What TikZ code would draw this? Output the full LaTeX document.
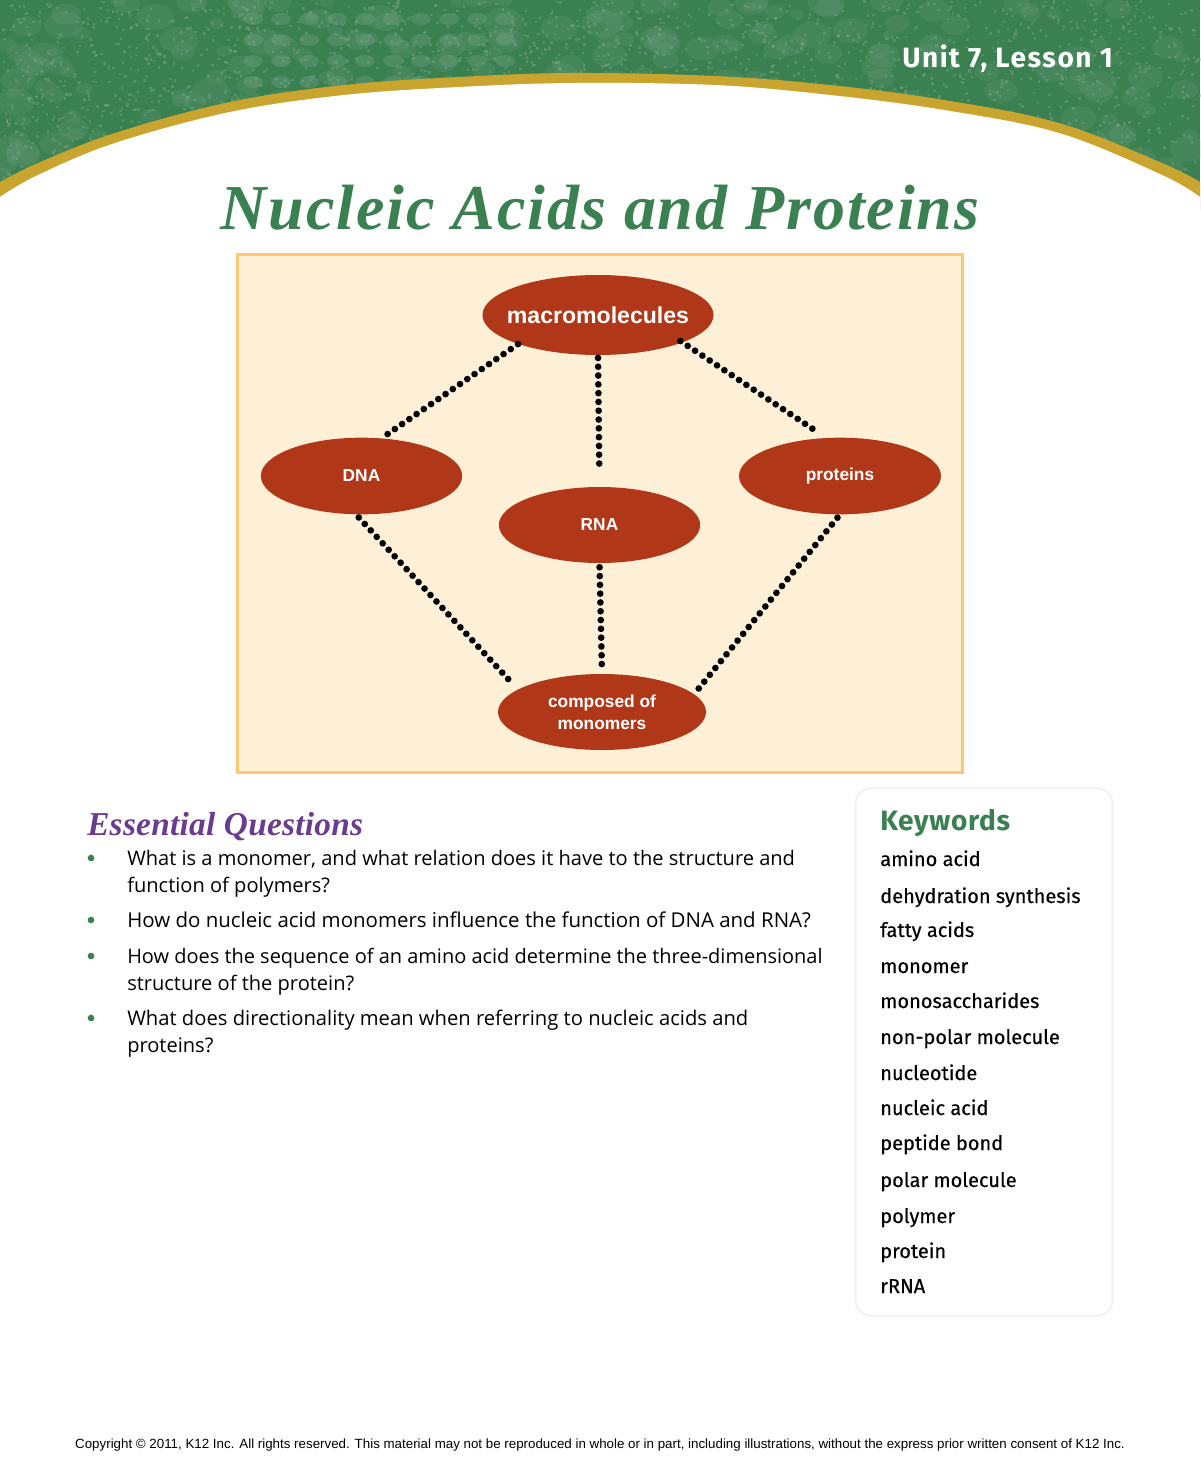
\documentclass[tikz,border=0pt]{standalone}
\usepackage{fontspec}
\usetikzlibrary{positioning,shapes.geometric}
\setmainfont{Liberation Serif}
\setsansfont{Liberation Sans}
\newfontfamily\bodyfont{Open Sans}
\newfontfamily\kwfont[RawFeature={embolden=0.35}]{Fira Sans}
\newfontfamily\headfont{Fira Sans}

\definecolor{bandgreen}{HTML}{3A8051}
\definecolor{bandlight}{HTML}{7FAA8E}
\definecolor{bandgold}{HTML}{C9A52F}
\definecolor{framefill}{HTML}{FEEFD7}
\definecolor{frameline}{HTML}{FCC873}
\definecolor{ovalred}{HTML}{B03819}
\definecolor{eqpurple}{HTML}{6A3B8F}

\tikzset{
    oval/.style={ellipse, fill=ovalred, inner sep=0pt, text=white, align=center, font=\sffamily\bfseries},
    dotline/.style={line width=5pt, line cap=round, dash pattern=on 0pt off 6.6pt},
    qline/.style={anchor=base west, inner sep=0pt, font=\bodyfont\fontsize{15.05}{18}\selectfont},
    kwline/.style={anchor=base west, inner sep=0pt, font=\kwfont\fontsize{15}{18}\selectfont},
    qdot/.style={circle, fill=bandgreen, minimum size=5pt, inner sep=0pt}
}

\begin{document}
\begin{tikzpicture}[x=0.75pt, y=-0.75pt]
    \useasboundingbox (0,0) rectangle (1200,1480);

    % green band with the gold arc
    \fill[bandgreen] (0,0) rectangle (1200,205);
    \pgfmathsetseed{11}
    \foreach \i in {1,...,300} {
        \pgfmathsetmacro{\bx}{rnd*1200}
        \pgfmathsetmacro{\by}{rnd*200}
        \pgfmathsetmacro{\br}{6+rnd*14}
        \fill[bandlight, opacity=0.16] (\bx,\by) ellipse ({\br} and {\br*0.7});
    }
    \foreach \i in {1,...,2600} {
        \pgfmathsetmacro{\bx}{rnd*1200}
        \pgfmathsetmacro{\by}{rnd*200}
        \fill[bandlight, opacity=0.4] (\bx,\by) rectangle ++(2.5,2.5);
    }
    \foreach \by in {19,40,61,82} {
        \foreach \bx in {253,281,...,510} {
            \fill[bandlight, opacity=0.3] (\bx,\by) ellipse (10 and 6);
        }
    }
    \fill[bandgold] plot[smooth, tension=0.6] coordinates {(0,182) (38,163) (115,133) (230,102) (344,85) (459,77) (574,73) (715,76) (830,85) (944,100) (1059,123) (1162,163) (1200,182)} -- (1200,210) -- (0,210) -- cycle;
    \fill[white] plot[smooth, tension=0.6] coordinates {(0,197) (38,175) (115,143) (230,112) (344,95) (459,87) (574,83) (715,85) (830,95) (944,110) (1059,133) (1162,175) (1200,197)} -- (1200,215) -- (0,215) -- cycle;

    \node (unit) [anchor=base east, inner sep=0pt, text=white] at (1113,68) {\headfont\bfseries\addfontfeature{LetterSpace=5.5}\fontsize{21}{24}\selectfont Unit 7, Lesson 1};
    \node (title) [anchor=base, inner sep=0pt, text=bandgreen] at (600,229) {\rmfamily\bfseries\itshape\addfontfeature{LetterSpace=3}\fontsize{48}{54}\selectfont Nucleic Acids and Proteins};

    % concept map
    \node (frame) [draw=frameline, fill=framefill, line width=2.2pt, minimum width=544pt, minimum height=388pt, inner sep=0pt] at (600,513.5) {};

    \node (macro) [oval, inner xsep=-7pt, minimum width=172.5pt, minimum height=60pt, font=\sffamily\bfseries\fontsize{17.3}{20}\selectfont] at (598,315) {macromolecules};
    \node (dna) [oval, minimum width=151pt, minimum height=57.5pt, font=\sffamily\bfseries\fontsize{13}{16}\selectfont] at (361.5,476) {DNA};
    \node (rna) [oval, minimum width=151pt, minimum height=57pt, font=\sffamily\bfseries\fontsize{13}{16}\selectfont] at (599.5,525) {RNA};
    \node (proteins) [oval, minimum width=151.5pt, minimum height=57.5pt, font=\sffamily\bfseries\fontsize{13}{16}\selectfont] at (840,476) {proteins};
    \node (composed) [oval, minimum width=156pt, minimum height=57pt, font=\sffamily\bfseries\fontsize{13}{16.5}\selectfont] at (602,712) {composed of\\monomers};

    \draw[dotline, shorten >=3.7pt] (macro.200) -- (dna.62);
    \draw[dotline, shorten >=15pt, shorten <=2pt] (macro.south) -- (rna.north);
    \draw[dotline, shorten >=11.5pt, shorten <=-2pt] (macro.-18) -- (proteins.110);
    \draw[dotline, shorten <=3pt, shorten >=5pt] (dna.-98) -- (composed.165);
    \draw[dotline, shorten <=3pt, shorten >=4pt] (rna.south) -- (composed.north);
    \draw[dotline, shorten <=3pt, shorten >=3pt] (proteins.south) -- (composed.11);

    % questions
    \node (eq) [anchor=base west, inner sep=0pt, text=eqpurple] at (87,835) {\rmfamily\bfseries\itshape\addfontfeature{LetterSpace=0.8}\fontsize{25}{28}\selectfont Essential Questions};
    \node (q1dot) [qdot] at (91,858) {};
    \node (q2dot) [qdot] at (91,920) {};
    \node (q3dot) [qdot] at (91,956) {};
    \node (q4dot) [qdot] at (91,1018) {};
    \node (q1a) [qline] at (127,865) {What is a monomer, and what relation does it have to the structure and};
    \node (q1b) [qline] at (127,892) {function of polymers?};
    \node (q2a) [qline, font=\bodyfont\fontsize{15.35}{18}\selectfont] at (127,927) {How do nucleic acid monomers influence the function of DNA and RNA?};
    \node (q3a) [qline, font=\bodyfont\fontsize{14.97}{18}\selectfont] at (127,963) {How does the sequence of an amino acid determine the three-dimensional};
    \node (q3b) [qline] at (127,990) {structure of the protein?};
    \node (q4a) [qline, font=\bodyfont\fontsize{15.15}{18}\selectfont] at (127,1025) {What does directionality mean when referring to nucleic acids and};
    \node (q4b) [qline] at (127,1052) {proteins?};

    % keywords
    \node (kwbox) [draw=black!5, fill=white, line width=1.5pt, rounded corners=12pt, minimum width=193pt, minimum height=396pt, inner sep=0pt] at (984,1052) {};
    \node (kwhead) [anchor=base west, inner sep=0pt, text=bandgreen] at (880,830) {\headfont\bfseries\addfontfeature{LetterSpace=2.5}\fontsize{21}{24}\selectfont Keywords};
    \foreach \y/\word [count=\k] in {866/amino acid, 903/dehydration synthesis, 937/fatty acids, 973/monomer, 1008/monosaccharides, 1044/non-polar molecule, 1080/nucleotide, 1115/nucleic acid, 1150/peptide bond, 1187/polar molecule, 1223/polymer, 1258/protein, 1293/rRNA} {
        \node (kw\k) [kwline] at (880,\y) {\word};
    }

    \node (copyright) [anchor=base, inner sep=0pt, font=\sffamily\fontsize{10}{12}\selectfont] at (600,1448) {Copyright © 2011, K12 Inc. All rights reserved. This material may not be reproduced in whole or in part, including illustrations, without the express prior written consent of K12 Inc.};
\end{tikzpicture}
\end{document}
